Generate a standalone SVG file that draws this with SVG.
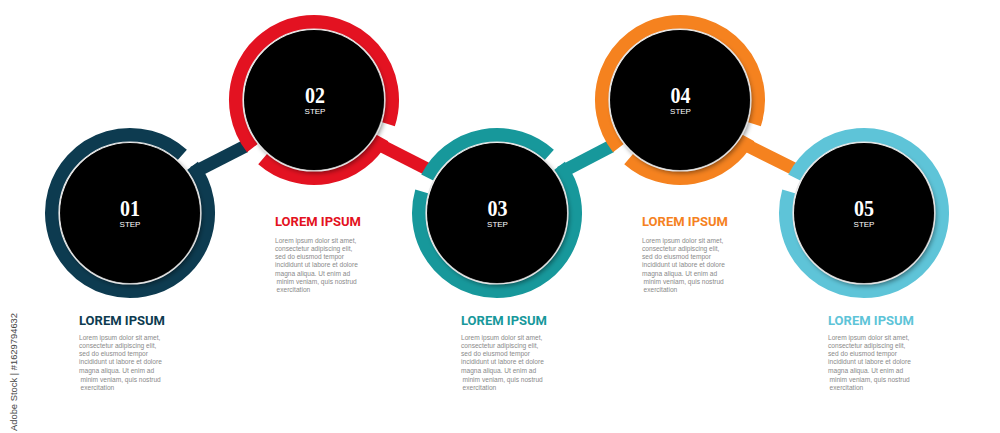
<svg xmlns="http://www.w3.org/2000/svg" width="1000" height="433" viewBox="0 0 1000 433">
<defs>
<filter id="sh" x="-20%" y="-20%" width="140%" height="140%">
<feDropShadow dx="2" dy="3" stdDeviation="2.5" flood-color="#000" flood-opacity="0.45"/>
</filter>
<style>
.ring{fill:none;stroke-width:14}
.bar{fill:none;stroke-width:13;stroke-linecap:butt}
.disc{fill:#050505;filter:url(#sh)}
.edge{fill:none;stroke:#e6e6e6;stroke-width:1.2}
.num{font-family:"Liberation Serif",serif;font-weight:bold;font-size:24px;fill:#fff;text-anchor:middle}
.step{font-family:"Liberation Sans",Arial,sans-serif;font-size:8px;fill:#fff;text-anchor:middle}
.title{font-family:Roboto,"Liberation Sans",sans-serif;font-weight:700;font-size:13px}
.body{font-family:"Liberation Sans",Arial,sans-serif;font-size:6.6px;fill:#8a8a8a}
.c1{stroke:#0d3b50}.c2{stroke:#e31221}.c3{stroke:#17989b}.c4{stroke:#f5821f}.c5{stroke:#5ec4d8}
.f1{fill:#0d3b50}.f2{fill:#e31221}.f3{fill:#17989b}.f4{fill:#f5821f}.f5{fill:#5ec4d8}
</style>
</defs>
<rect width="1000" height="433" fill="#fff"/>
<g id="connectors">
<path class="bar c1" d="M193.2,172.7 L245.1,146.2"/>
<path class="bar c2" d="M375.6,142.8 L426.7,168.8"/>
<path class="bar c3" d="M560.2,172.7 L611.1,146.2"/>
<path class="bar c4" d="M741.6,142.8 L793.7,168.8"/>
</g>
<g id="step1">
<path class="ring c1" d="M182.19,155.04 A78,78 0 1 0 192.29,166.06"/>
<circle class="disc" cx="130" cy="213" r="70"/>
<circle class="edge" cx="130" cy="213" r="71"/>
<text class="num" x="130" y="216" textLength="20" lengthAdjust="spacingAndGlyphs">01</text>
<text class="step" x="130" y="227">STEP</text>
<text class="title f1" x="79" y="325">LOREM IPSUM</text>
<text class="body"><tspan x="79" y="339.5">Lorem ipsum dolor sit amet,</tspan><tspan x="79" y="347.8">consectetur adipiscing elit,</tspan><tspan x="79" y="356.1">sed do eiusmod tempor</tspan><tspan x="79" y="364.4">incididunt ut labore et dolore</tspan><tspan x="79" y="372.7">magna aliqua. Ut enim ad</tspan><tspan x="80.5" y="382">minim veniam, quis nostrud</tspan><tspan x="80.5" y="390.4">exercitation</tspan></text>
</g>
<g id="step2">
<path class="ring c2" d="M262.82,158.87 A78,78 0 0 0 382.22,137.82"/>
<path class="ring c2" d="M388.18,124.10 A78,78 0 1 0 252.54,148.02"/>
<circle class="disc" cx="314" cy="100" r="70"/>
<circle class="edge" cx="314" cy="100" r="71"/>
<text class="num" x="315" y="103" textLength="20" lengthAdjust="spacingAndGlyphs">02</text>
<text class="step" x="315" y="114">STEP</text>
<text class="title f2" x="275" y="226">LOREM IPSUM</text>
<text class="body"><tspan x="275" y="242.7">Lorem ipsum dolor sit amet,</tspan><tspan x="275" y="250.9">consectetur adipiscing elit,</tspan><tspan x="275" y="259.1">sed do eiusmod tempor</tspan><tspan x="275" y="267.3">incididunt ut labore et dolore</tspan><tspan x="275" y="275.5">magna aliqua. Ut enim ad</tspan><tspan x="276.5" y="284">minim veniam, quis nostrud</tspan><tspan x="276.5" y="292.3">exercitation</tspan></text>
</g>
<g id="step3">
<path class="ring c3" d="M549.19,155.04 A78,78 0 0 0 427.50,177.59"/>
<path class="ring c3" d="M422.02,191.50 A78,78 0 1 0 559.29,166.06"/>
<circle class="disc" cx="497" cy="213" r="70"/>
<circle class="edge" cx="497" cy="213" r="71"/>
<text class="num" x="497.5" y="216" textLength="20" lengthAdjust="spacingAndGlyphs">03</text>
<text class="step" x="497.5" y="227">STEP</text>
<text class="title f3" x="461" y="325">LOREM IPSUM</text>
<text class="body"><tspan x="461" y="339.5">Lorem ipsum dolor sit amet,</tspan><tspan x="461" y="347.8">consectetur adipiscing elit,</tspan><tspan x="461" y="356.1">sed do eiusmod tempor</tspan><tspan x="461" y="364.4">incididunt ut labore et dolore</tspan><tspan x="461" y="372.7">magna aliqua. Ut enim ad</tspan><tspan x="462.5" y="382">minim veniam, quis nostrud</tspan><tspan x="462.5" y="390.4">exercitation</tspan></text>
</g>
<g id="step4">
<path class="ring c4" d="M628.82,158.87 A78,78 0 0 0 748.22,137.82"/>
<path class="ring c4" d="M754.18,124.10 A78,78 0 1 0 618.54,148.02"/>
<circle class="disc" cx="680" cy="100" r="70"/>
<circle class="edge" cx="680" cy="100" r="71"/>
<text class="num" x="680.5" y="103" textLength="20" lengthAdjust="spacingAndGlyphs">04</text>
<text class="step" x="680.5" y="114">STEP</text>
<text class="title f4" x="642" y="226">LOREM IPSUM</text>
<text class="body"><tspan x="642" y="242.7">Lorem ipsum dolor sit amet,</tspan><tspan x="642" y="250.9">consectetur adipiscing elit,</tspan><tspan x="642" y="259.1">sed do eiusmod tempor</tspan><tspan x="642" y="267.3">incididunt ut labore et dolore</tspan><tspan x="642" y="275.5">magna aliqua. Ut enim ad</tspan><tspan x="643.5" y="284">minim veniam, quis nostrud</tspan><tspan x="643.5" y="292.3">exercitation</tspan></text>
</g>
<g id="step5">
<path class="ring c5" d="M789.02,191.50 A78,78 0 1 0 794.50,177.59"/>
<circle class="disc" cx="864" cy="213" r="70"/>
<circle class="edge" cx="864" cy="213" r="71"/>
<text class="num" x="864" y="216" textLength="20" lengthAdjust="spacingAndGlyphs">05</text>
<text class="step" x="864" y="227">STEP</text>
<text class="title f5" x="828" y="325">LOREM IPSUM</text>
<text class="body"><tspan x="828" y="339.5">Lorem ipsum dolor sit amet,</tspan><tspan x="828" y="347.8">consectetur adipiscing elit,</tspan><tspan x="828" y="356.1">sed do eiusmod tempor</tspan><tspan x="828" y="364.4">incididunt ut labore et dolore</tspan><tspan x="828" y="372.7">magna aliqua. Ut enim ad</tspan><tspan x="829.5" y="382">minim veniam, quis nostrud</tspan><tspan x="829.5" y="390.4">exercitation</tspan></text>
</g>
<text transform="translate(16.5,431) rotate(-90)" font-family="Liberation Sans, Arial, sans-serif" font-size="9.5" fill="#444" textLength="118" lengthAdjust="spacingAndGlyphs">Adobe Stock | #1629794632</text>
</svg>
